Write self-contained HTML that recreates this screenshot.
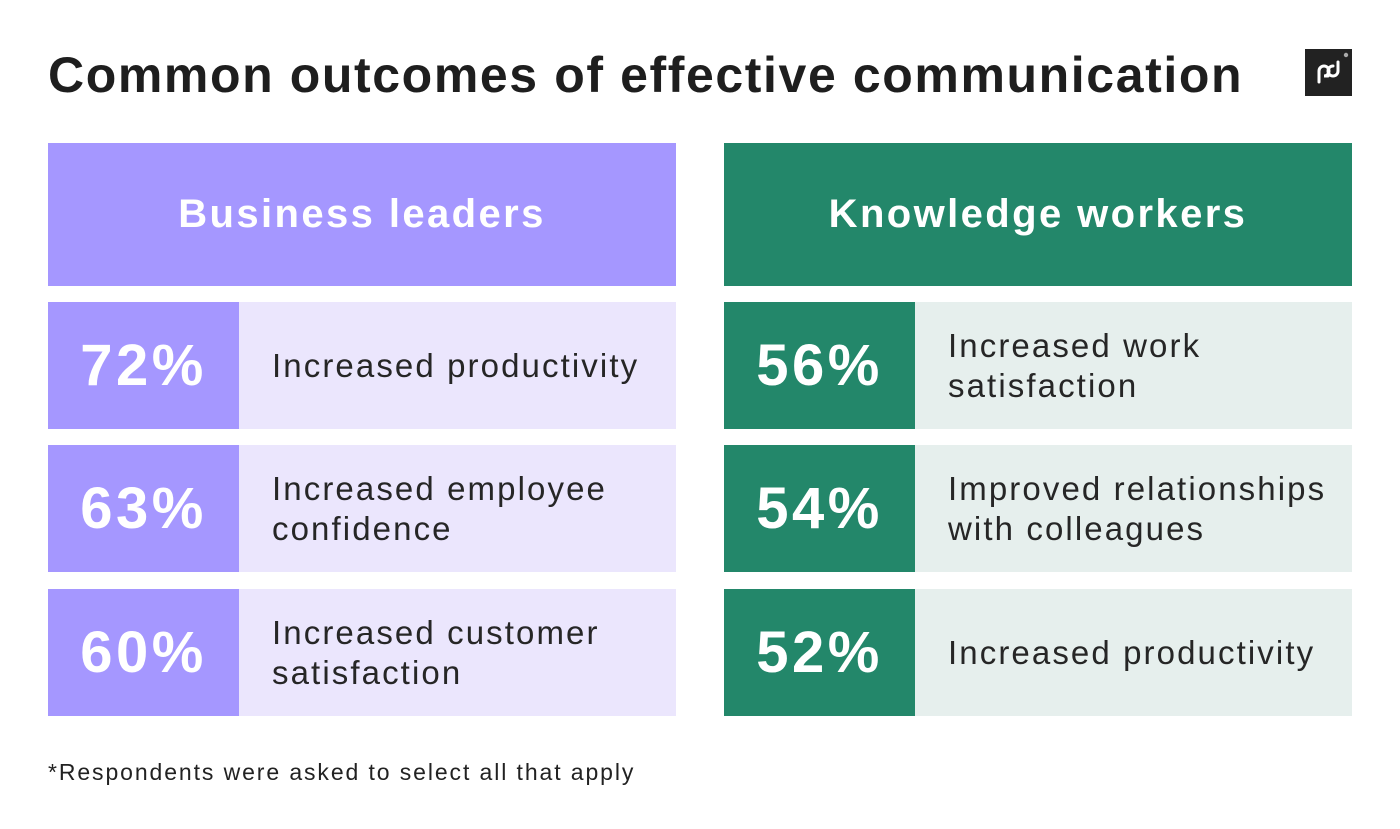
<!DOCTYPE html>
<html><head><style>
body{margin:0;width:1400px;height:829px;background:#fff;font-family:"Liberation Sans",sans-serif;position:relative;overflow:hidden;color:#222}
.t{position:absolute;left:48px;top:46px;font-size:50px;font-weight:bold;letter-spacing:1.6px;color:#1e1e1e;white-space:nowrap}
.logo{position:absolute;left:1305px;top:49px;width:47px;height:47px;background:#222}
.hd{position:absolute;top:143px;height:143px;width:628px;color:#fff;font-weight:bold;font-size:40px;letter-spacing:2.4px;display:flex;align-items:center;justify-content:center}
.row{position:absolute;width:628px;height:127px;display:flex}
.n{width:191px;color:#fff;font-weight:bold;font-size:58px;display:flex;align-items:center;justify-content:center;letter-spacing:3.5px}
.l{flex:1;display:flex;align-items:center;padding-left:33px;font-size:33px;line-height:40px;color:#262626;letter-spacing:2.1px;white-space:nowrap}
.p .n{background:#a597ff}.p .l{background:#ebe6fd}
.g .n{background:#23876a}.g .l{background:#e6efed}
.f{position:absolute;left:48px;top:759px;font-size:23px;letter-spacing:1.9px;color:#222;white-space:nowrap}
</style></head><body>
<div class="t">Common outcomes of effective communication</div>
<div class="logo"><svg width="47" height="47"><path d="M14 33 V22 a5 5 0 1 1 5 5 h4" stroke="#fff" stroke-width="3" fill="none" stroke-linecap="round"/><path d="M33 13 V22 a5 5 0 1 1 -5 -5" stroke="#fff" stroke-width="3" fill="none" stroke-linecap="round"/><circle cx="41" cy="6" r="2.2" fill="#aaa"/></svg></div>
<div class="hd" style="left:48px;background:#a597ff">Business leaders</div>
<div class="hd" style="left:724px;background:#23876a">Knowledge workers</div>
<div class="row p" style="left:48px;top:302px"><div class="n">72%</div><div class="l">Increased productivity</div></div>
<div class="row p" style="left:48px;top:445px"><div class="n">63%</div><div class="l">Increased employee<br>confidence</div></div>
<div class="row p" style="left:48px;top:589px"><div class="n">60%</div><div class="l">Increased customer<br>satisfaction</div></div>
<div class="row g" style="left:724px;top:302px"><div class="n">56%</div><div class="l">Increased work<br>satisfaction</div></div>
<div class="row g" style="left:724px;top:445px"><div class="n">54%</div><div class="l">Improved relationships<br>with colleagues</div></div>
<div class="row g" style="left:724px;top:589px"><div class="n">52%</div><div class="l">Increased productivity</div></div>
<div class="f">*Respondents were asked to select all that apply</div>
</body></html>
